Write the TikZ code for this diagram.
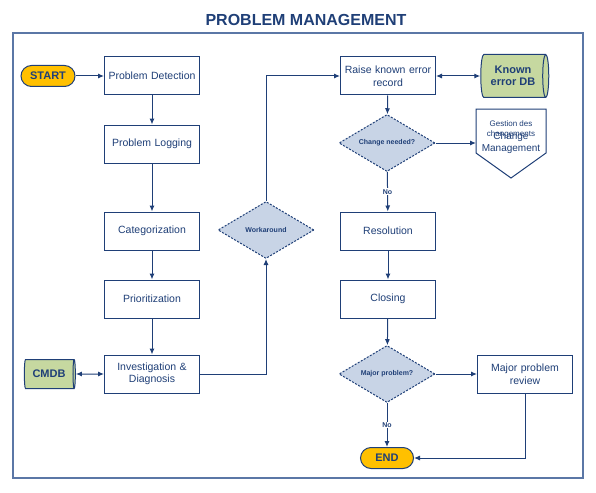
\documentclass[tikz,border=0pt]{standalone}
\usepackage{fontspec}
\setmainfont{Liberation Sans}
\usetikzlibrary{shapes.geometric,calc,arrows.meta}
\definecolor{pmblue}{HTML}{1F3F77}
\definecolor{pmframe}{HTML}{5B77A6}
\definecolor{pmgold}{HTML}{FFC000}
\definecolor{pmgreen}{HTML}{C6D8A0}
\definecolor{pmgrey}{HTML}{C8D4E6}
\tikzset{%
  >={Latex[length=6pt,width=5pt]}, % option for nice arrows
  every node/.style={text=pmblue},%
  link/.style={draw=pmblue,line width=1pt},%
  proc/.style={draw=pmblue,fill=white,line width=1pt,minimum width=95pt,
    minimum height=38pt,inner sep=1pt,text width=90pt,align=center,
    font=\fontsize{10.5}{12.5}\selectfont},%
  decide/.style={diamond,draw=pmblue,fill=pmgrey,dash pattern=on 2pt off 1.5pt,
    line width=1pt,minimum width=96pt,minimum height=57pt,aspect=1.7,inner sep=0pt,
    font=\bfseries\fontsize{7}{8}\selectfont},%
  terminal/.style={draw=pmblue,fill=pmgold,line width=1pt,rounded corners=10.5pt,
    minimum width=54pt,minimum height=21pt,inner sep=0pt,
    font=\bfseries\fontsize{11}{12}\selectfont},%
  store/.style={cylinder,draw=pmblue,fill=pmgreen,line width=1pt,shape aspect=0.3,
    inner sep=0pt,align=center,font=\bfseries\fontsize{11}{12.5}\selectfont},%
  nolabel/.style={fill=white,inner sep=1pt,font=\bfseries\fontsize{7}{8}\selectfont}%
}
\begin{document}
\begin{tikzpicture}[x=1pt,y=-1pt] % PROBLEM MANAGEMENT

\useasboundingbox (0,0) rectangle (596,492);
\node[font=\bfseries\fontsize{16}{18}\selectfont] (title) at (306,20) {PROBLEM MANAGEMENT};
\draw[pmframe,line width=2pt] (13,33) rectangle (583,478);

% left column
\node[terminal] (start) at (48,76) {START};
\node[proc] (det) at (152,76) {Problem Detection};
\node[proc] (log) at (152,144) {Problem Logging};
\node[proc] (cat) at (152,231) {Categorization};
\node[proc] (prio) at (152,299) {Prioritization};
\node[proc] (inv) at (152,374) {Investigation \&\\Diagnosis};
\node[store,minimum width=29pt,minimum height=51pt] (cmdb) at (49,374) {CMDB};

\node[decide] (work) at (266,230) {Workaround};

% right column
\node[proc] (raise) at (388,76) {Raise known error\\record};
\node[store,minimum width=43pt,minimum height=68pt] (kedb) at (513,76) {Known\\error DB};
\node[decide] (chg) at (387,143) {Change needed?};
\node[proc] (res) at (388,231) {Resolution};
\node[proc] (clos) at (388,299) {Closing};
\node[decide] (major) at (387,374) {Major problem?};
\node[proc] (review) at (525,374) {Major problem\\review};
\node[terminal,minimum width=53pt] (end) at (387,458) {END};

% change management connector
\draw[pmblue,line width=1pt,fill=white] (476,109) -- (546,109) -- (546,153)
    -- (511,178) -- (476,153) -- cycle;
\coordinate (cm) at (476,143);
\node[align=center,font=\fontsize{8}{10}\selectfont] (gds) at (511,129) {Gestion des\\changements};
\node[align=center,font=\fontsize{10}{12}\selectfont] (cmt) at (511,143) {Change\\Management};

\draw[link,->] (start) -- (det);
\draw[link,->] (det) -- (log);
\draw[link,->] (log) -- (cat);
\draw[link,->] (cat) -- (prio);
\draw[link,->] (prio) -- (inv);
\draw[link,<->] (cmdb) -- (inv);
\draw[link,->] (inv.east) -| (work.south);
\draw[link,->] (work.north) |- (raise.west);
\draw[link,<->] (raise) -- (kedb);
\draw[link,->] (raise) -- (chg);
\draw[link,->] (chg.east) -- (cm);
\draw[link,->] (chg) -- node[nolabel] {No} (res);
\draw[link,->] (res) -- (clos);
\draw[link,->] (clos) -- (major);
\draw[link,->] (major) -- (review);
\draw[link,->] (major) -- node[nolabel] {No} (end);
\draw[link,->] (review.south) |- (end.east);

\end{tikzpicture}
\end{document}
